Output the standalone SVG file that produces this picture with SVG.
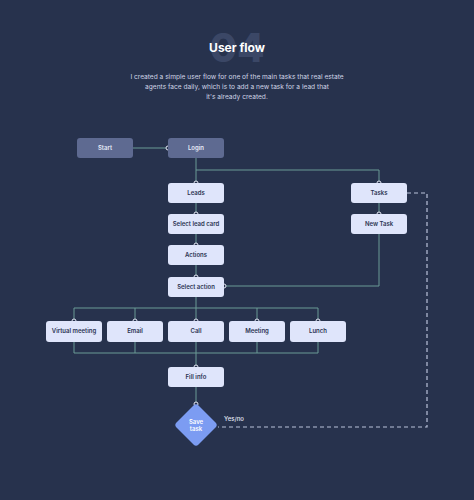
<svg xmlns="http://www.w3.org/2000/svg" width="474" height="500" viewBox="0 0 474 500">
<style>
.bg{fill:#27324d}
.box{fill:#dfe5fb}
.dbox{fill:#5e6a91}
.lbl{font-family:Inter,"Noto Sans",sans-serif;font-size:6px;font-weight:600;fill:#2b3452;text-anchor:middle}
.dlbl{font-family:Inter,"Noto Sans",sans-serif;font-size:6px;font-weight:600;fill:#e6eaf7;text-anchor:middle}
.ln{fill:none;stroke:#6a9a96;stroke-width:1}
.dash{fill:none;stroke:#b9c1d9;stroke-width:1.2;stroke-dasharray:4 3}
.dot{fill:#27324d;stroke:#e6eaf7;stroke-width:1}
.para{font-family:Inter,"Noto Sans",sans-serif;font-size:6.6px;fill:#d0d5e6;text-anchor:middle}
</style>
<rect class="bg" x="0" y="0" width="474" height="500"/>
<g id="header">
<text x="237" y="62" font-family="Inter,'Noto Sans',sans-serif" font-size="40" font-weight="800" fill="#3b4766" text-anchor="middle">04</text>
<text x="237" y="52" font-family="Inter,'Noto Sans',sans-serif" font-size="12" font-weight="700" fill="#ffffff" text-anchor="middle">User flow</text>
<text class="para" x="237" y="79">I created a simple user flow for one of the main tasks that real estate</text>
<text class="para" x="237" y="89">agents face daily, which is to add a new task for a lead that</text>
<text class="para" x="237" y="99">it's already created.</text>
</g>
<g id="connectors">
<path class="ln" d="M133 148H168"/>
<path class="ln" d="M196 158V183"/>
<path class="ln" d="M196 170H379V183"/>
<path class="ln" d="M196 203V214M196 234V245M196 265V277"/>
<path class="ln" d="M379 203V214"/>
<path class="ln" d="M224 286H379V234"/>
<path class="ln" d="M196 297V321"/>
<path class="ln" d="M74 321V308H318V321M135 308V321M257 308V321"/>
<path class="ln" d="M74 342V353H318V342M135 342V353M257 342V353"/>
<path class="ln" d="M196 342V367"/>
<path class="ln" d="M196 387V403"/>
<path class="dash" d="M407 193H427V427H218"/>
<circle class="dot" cx="168" cy="148" r="2"/>
<circle class="dot" cx="196" cy="183" r="2"/>
<circle class="dot" cx="379" cy="183" r="2"/>
<circle class="dot" cx="196" cy="214" r="2"/>
<circle class="dot" cx="379" cy="214" r="2"/>
<circle class="dot" cx="196" cy="245" r="2"/>
<circle class="dot" cx="196" cy="277" r="2"/>
<circle class="dot" cx="224" cy="286" r="2"/>
<circle class="dot" cx="74" cy="321" r="2"/>
<circle class="dot" cx="135" cy="321" r="2"/>
<circle class="dot" cx="196" cy="321" r="2"/>
<circle class="dot" cx="257" cy="321" r="2"/>
<circle class="dot" cx="318" cy="321" r="2"/>
<circle class="dot" cx="196" cy="367" r="2"/>
<circle class="dot" cx="196" cy="404" r="2"/>
<text x="224" y="421" font-family="Inter,'Noto Sans',sans-serif" font-size="6" font-weight="500" fill="#e6eaf7">Yes/no</text>
</g>
<g id="start"><rect class="dbox" x="77" y="138" width="56" height="20" rx="3"/><text class="dlbl" x="105" y="150">Start</text></g>
<g id="login"><rect class="dbox" x="168" y="138" width="56" height="20" rx="3"/><text class="dlbl" x="196" y="150">Login</text></g>
<g id="leads"><rect class="box" x="168" y="183" width="56" height="20" rx="3"/><text class="lbl" x="196" y="195">Leads</text></g>
<g id="select-lead-card"><rect class="box" x="168" y="214" width="56" height="20" rx="3"/><text class="lbl" x="196" y="226">Select lead card</text></g>
<g id="actions"><rect class="box" x="168" y="245" width="56" height="20" rx="3"/><text class="lbl" x="196" y="257">Actions</text></g>
<g id="select-action"><rect class="box" x="168" y="277" width="56" height="20" rx="3"/><text class="lbl" x="196" y="289">Select action</text></g>
<g id="tasks"><rect class="box" x="351" y="183" width="56" height="20" rx="3"/><text class="lbl" x="379" y="195">Tasks</text></g>
<g id="new-task"><rect class="box" x="351" y="214" width="56" height="20" rx="3"/><text class="lbl" x="379" y="226">New Task</text></g>
<g id="virtual-meeting"><rect class="box" x="46" y="321" width="56" height="21" rx="3"/><text class="lbl" x="74" y="333">Virtual meeting</text></g>
<g id="email"><rect class="box" x="107" y="321" width="56" height="21" rx="3"/><text class="lbl" x="135" y="333">Email</text></g>
<g id="call"><rect class="box" x="168" y="321" width="56" height="21" rx="3"/><text class="lbl" x="196" y="333">Call</text></g>
<g id="meeting"><rect class="box" x="229" y="321" width="56" height="21" rx="3"/><text class="lbl" x="257" y="333">Meeting</text></g>
<g id="lunch"><rect class="box" x="290" y="321" width="56" height="21" rx="3"/><text class="lbl" x="318" y="333">Lunch</text></g>
<g id="fill-info"><rect class="box" x="168" y="367" width="56" height="20" rx="3"/><text class="lbl" x="196" y="379">Fill info</text></g>
<g id="save-task">
<path d="M193.5 405.5Q196 403 198.5 405.5L215.5 422.5Q218 425 215.5 427.5L198.5 444.5Q196 447 193.5 444.5L176.5 427.5Q174 425 176.5 422.5Z" fill="#7c9cf2"/>
<text x="196" y="424" font-family="Inter,'Noto Sans',sans-serif" font-size="6" font-weight="600" fill="#ffffff" text-anchor="middle">Save</text>
<text x="196" y="431" font-family="Inter,'Noto Sans',sans-serif" font-size="6" font-weight="600" fill="#ffffff" text-anchor="middle">task</text>
</g>
</svg>
